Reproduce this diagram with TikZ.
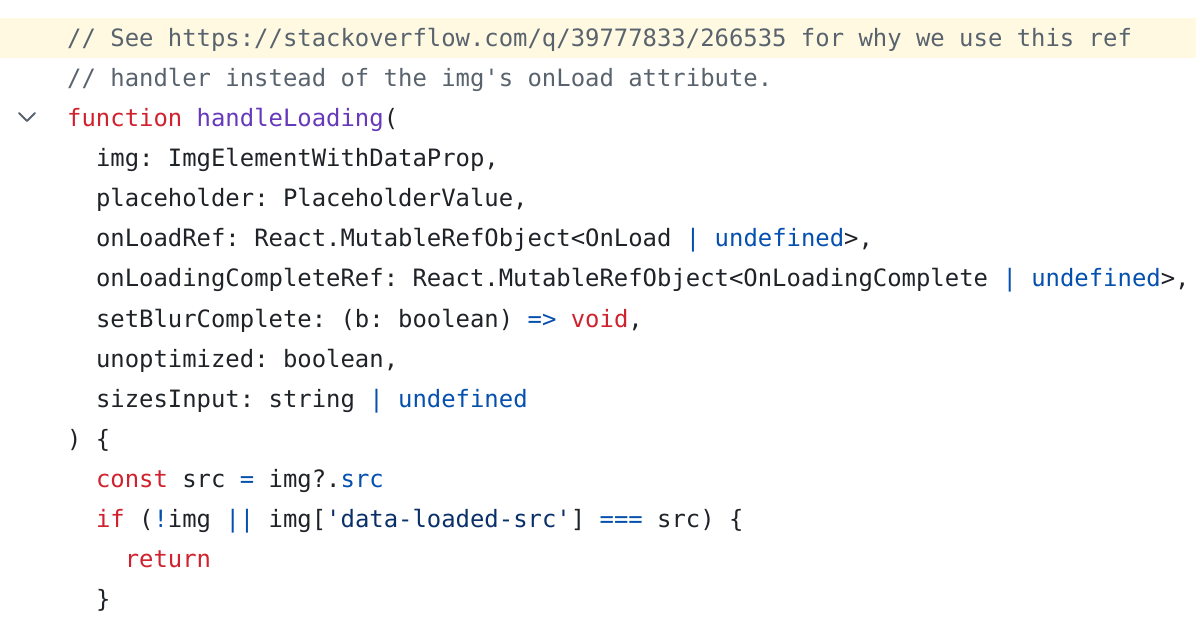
\documentclass[tikz,border=0pt]{standalone}
\usepackage{fontspec}
\setmonofont{DejaVu Sans Mono}
\usepackage{xcolor}
\definecolor{cmt}{HTML}{59636E}
\definecolor{kwd}{HTML}{CF222E}
\definecolor{fnc}{HTML}{6639BA}
\definecolor{cst}{HTML}{0550AE}
\definecolor{str}{HTML}{0A3069}
\definecolor{txt}{HTML}{1F2328}
\definecolor{hlline}{HTML}{FFF9E2}
\newcommand{\kw}[1]{\textcolor{kwd}{#1}}
\newcommand{\cs}[1]{\textcolor{cst}{#1}}
\begin{document}
\begin{tikzpicture}[x=1pt, y=-1pt,
  code/.style={anchor=base west, inner sep=0pt, text=txt,
    font=\ttfamily\fontsize{23.9}{40}\selectfont}]

\useasboundingbox (0,0) rectangle (1196,620);

% highlighted first line
\fill[hlline] (0,18) rectangle (1196,58);

% fold chevron
\draw[cmt, line width=2pt, line cap=round, line join=round]
  (19,113) -- (27,121) -- (35,113);

%% lines of code, indent step = 14.4
\path
(67,47) node[code, text=cmt] (l1){// See https://stackoverflow.com/q/39777833/266535 for why we use this ref}
(67,87) node[code, text=cmt] (l2){// handler instead of the img's onLoad attribute.}
(67,127) node[code] (l3){\kw{function} \textcolor{fnc}{handleLoading}(}
(95.8,167) node[code] (l4){img: ImgElementWithDataProp,}
(95.8,207) node[code] (l5){placeholder: PlaceholderValue,}
(95.8,247) node[code] (l6){onLoadRef: React.MutableRefObject<OnLoad \cs{|} \cs{undefined}>,}
(95.8,287) node[code] (l7){onLoadingCompleteRef: React.MutableRefObject<OnLoadingComplete \cs{|} \cs{undefined}>,}
(95.8,327) node[code] (l8){setBlurComplete: (b: boolean) \cs{=>} \kw{void},}
(95.8,367) node[code] (l9){unoptimized: boolean,}
(95.8,407) node[code] (l10){sizesInput: string \cs{|} \cs{undefined}}
(67,447) node[code] (l11){) \{}
(95.8,487) node[code] (l12){\kw{const} src \cs{=} img?.\cs{src}}
(95.8,527) node[code] (l13){\kw{if} (\cs{!}img \cs{||} img[\textcolor{str}{'data-loaded-src'}] \cs{===} src) \{}
(124.6,567) node[code] (l14){\kw{return}}
(95.8,607) node[code] (l15){\}};

\end{tikzpicture}
\end{document}
